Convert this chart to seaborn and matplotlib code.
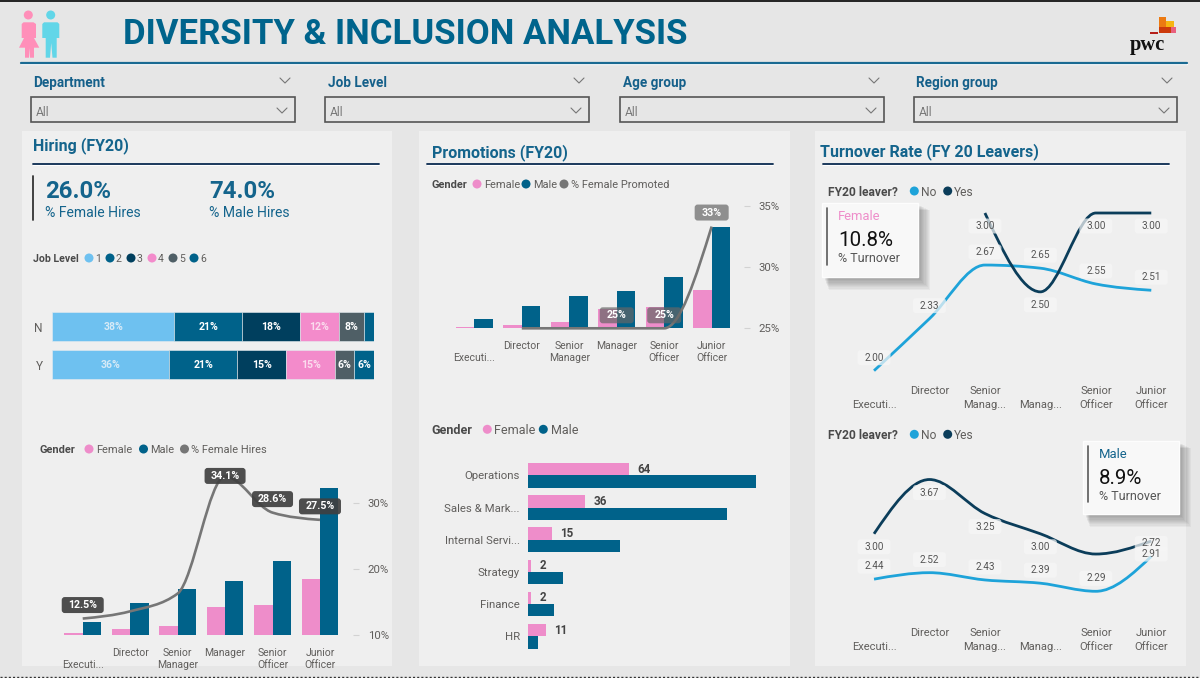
import numpy as np
import pandas as pd
import matplotlib
matplotlib.use("Agg")
import matplotlib.pyplot as plt
from matplotlib.patches import Rectangle, FancyBboxPatch, Circle, Polygon, PathPatch
from matplotlib.path import Path
import seaborn as sns

# ---- data -------------------------------------------------------------
levels = ["Executive", "Director", "Senior Manager", "Manager", "Senior Officer", "Junior Officer"]
combo_ticks = ["\nExecuti...", "Director", "Senior\nManager", "Manager", "Senior\nOfficer", "Junior\nOfficer"]
turnover_ticks = ["\nExecuti...", "Director", "Senior\nManag...", "\nManag...", "Senior\nOfficer", "Junior\nOfficer"]

job_levels = ["1", "2", "3", "4", "5", "6"]
stack_rows = ["N", "Y"]
stack_n = [38, 21, 18, 12, 8, 3]
stack_y = [36, 21, 15, 15, 6, 6]

hires_female = [1, 3, 5, 15, 16, 30]
hires_male = [7, 17, 25, 29, 40, 79]
hires_pct = [12.5, 13.6, 16.3, 34.1, 28.6, 27.5]

promo_female = [1, 2, 4, 12, 13, 24]
promo_male = [6, 14, 20, 23, 32, 63]
promo_pct = [np.nan, 25, 25, 25, 25, 33.3]

departments = ["Operations", "Sales & Mark...", "Internal Servi...", "Strategy", "Finance", "HR"]
dept_female = [64, 36, 15, 2, 2, 11]
dept_male = [144, 126, 58, 22, 16, 6]

female_no = [2.00, 2.33, 2.67, 2.65, 2.55, 2.51]
female_yes = [np.nan, np.nan, 3.00, 2.50, 3.00, 3.00]
male_no = [2.44, 2.52, 2.43, 2.39, 2.29, 2.72]
male_yes = [3.00, 3.67, 3.25, 3.00, 2.75, 2.91]
male_yes_labelled = [0, 1, 2, 3, 5]

filters = ["Department", "Job Level", "Age group", "Region group"]

# ---- styling ----------------------------------------------------------
W, H = 1200, 678
PAGE, PANEL = "#E6E6E6", "#EFEFEF"
PINK, TEAL = "#EE8DCA", "#00628A"
GREY_LINE, NAVY = "#767676", "#0A2A50"
NO_C, YES_C = "#1EA3D9", "#0B3D5A"
TITLE_C, TEXT_C = "#14648C", "#605E5C"
LEVEL_COLORS = ["#6EC1F0", "#00628A", "#003F5E", "#F38BCB", "#4F5F66", "#00628A"]

sns.set_theme(style="white")
plt.rcParams["font.family"] = ["Roboto", "DejaVu Sans"]
plt.rcParams["axes.facecolor"] = "none"

fig = plt.figure(figsize=(W / 100, H / 100), dpi=100, facecolor=PAGE)


def px_axes(l, t, r, b, **kw):
    return fig.add_axes([l / W, 1 - b / H, (r - l) / W, (b - t) / H], **kw)


def overlay(zorder):
    a = px_axes(0, 0, W, H)
    a.set_xlim(0, W)
    a.set_ylim(H, 0)
    a.axis("off")
    a.set_zorder(zorder)
    return a


back = overlay(0)
top = overlay(20)


def label(a, x, y, s, size, color=TEXT_C, weight="normal", ha="left", **kw):
    return a.text(x, y + 1, s, fontsize=size * 0.72, color=color, fontweight=weight,
                  ha=ha, va="center", **kw)


def clean(a):
    sns.despine(ax=a, left=True, bottom=True)
    a.set_xlabel("")
    a.set_ylabel("")


def monotone_line(a, x, y, color, lw):
    """Turn the seaborn line just drawn into a monotone cubic curve through the same knots."""
    a.lines[-1].remove()
    x, y = np.asarray(x, float), np.asarray(y, float)
    h = np.diff(x)
    s = np.diff(y) / h
    t = np.zeros_like(y)
    for i in range(1, len(y) - 1):
        p = (s[i - 1] * h[i] + s[i] * h[i - 1]) / (h[i - 1] + h[i])
        t[i] = (np.sign(s[i - 1]) + np.sign(s[i])) * min(abs(s[i - 1]), abs(s[i]), 0.5 * abs(p))
    t[0] = (3 * s[0] - t[1]) / 2
    t[-1] = (3 * s[-1] - t[-2]) / 2
    verts, codes = [(x[0], y[0])], [Path.MOVETO]
    for i in range(len(h)):
        verts += [(x[i] + h[i] / 3, y[i] + t[i] * h[i] / 3),
                  (x[i + 1] - h[i] / 3, y[i + 1] - t[i + 1] * h[i] / 3),
                  (x[i + 1], y[i + 1])]
        codes += [Path.CURVE4] * 3
    a.add_patch(PathPatch(Path(verts, codes), fc="none", ec=color, lw=lw,
                          capstyle="butt", joinstyle="round", clip_on=False, zorder=3))


def pill(a, i, v, dy, w, h, fc, alpha, tc, text, size, weight="bold"):
    """Rounded value tag placed relative to a point of axes a, dy pixels below (+) or above (-)."""
    dx_, dy_ = a.transData.transform((i, v))
    x, y = dx_, H - dy_ + dy
    top.add_patch(FancyBboxPatch((x - w / 2, y - h / 2), w, h,
                                 boxstyle="round,pad=0,rounding_size=3",
                                 fc=fc, ec="none", alpha=alpha))
    label(top, x, y - 1, text, size, color=tc, weight=weight, ha="center")


def legend_dots(y, title, title_x, title_size, items, size):
    label(top, title_x, y, title, title_size, color="#4A4A4A", weight="bold")
    for cx, tx, name, col in items:
        top.add_patch(Circle((cx, y), 4.5, fc=col, ec="none"))
        label(top, tx, y, name, size)


def combo(rect, female, male, pct, unit_px, tick_base, tick_px10, ticks, tick_offset, pill_cfg, fmt):
    l, t, r, b = rect
    ax = px_axes(l, t, r, b)
    df = pd.DataFrame({"level": levels * 2, "count": list(female) + list(male),
                       "gender": ["Female"] * 6 + ["Male"] * 6})
    sns.barplot(data=df, x="level", y="count", hue="gender", order=levels,
                hue_order=["Female", "Male"], palette=[PINK, TEAL], width=0.776, gap=0,
                saturation=1, legend=False, ax=ax, linewidth=0)
    ax.set_xlim(-0.5, 5.5)
    ax.set_ylim(0, (b - t) / unit_px)
    ax.set_yticks([])
    ax.set_xticks(range(6))
    ax.set_xticklabels(combo_ticks, fontsize=7.5, color=TEXT_C, linespacing=1.22)
    ax.tick_params(axis="x", length=0, pad=9.2)
    clean(ax)

    ax2 = ax.twinx()
    line = pd.DataFrame({"pos": range(6), "pct": pct}).dropna()
    sns.lineplot(data=line, x="pos", y="pct", color=GREY_LINE, estimator=None, ax=ax2)
    monotone_line(ax2, line["pos"], line["pct"], GREY_LINE, 1.9)
    ax2.set_xlim(-0.5, 5.5)
    ax2.set_ylim(tick_base, tick_base + (b - t) / tick_px10)
    ax2.set_yticks(ticks)
    ax2.set_yticklabels([f"{v}%" for v in ticks])
    ax2.spines["right"].set_position(("outward", tick_offset * 0.72))
    sns.despine(ax=ax2, left=True, right=True, bottom=True)
    ax2.set_xlabel("")
    ax2.set_ylabel("")
    ax2.tick_params(axis="y", which="major", right=True, length=4.4, width=0.8,
                    color="#D2D2D2", pad=6.2, labelsize=8.2, labelcolor=TEXT_C)
    for tick in ax2.yaxis.get_major_ticks():
        tick.tick2line.set_linestyle((0, (1, 2.5)))
    for i, dy, w, fc, alpha in pill_cfg:
        pill(ax2, i, pct[i], dy, w, 16, fc, alpha, "white", format(pct[i], fmt) + "%", 10.6)
    return ax, ax2


def turnover(rect, no, yes, yes_labelled, unit_px, y_ref, ref_v):
    l, t, r, b = rect
    ax = px_axes(l, t, r, b)
    frame = pd.DataFrame({"pos": list(range(6)) * 2, "rate": no + yes,
                          "leaver": ["No"] * 6 + ["Yes"] * 6}).dropna()
    for name, col in (("No", NO_C), ("Yes", YES_C)):
        sub = frame[frame["leaver"] == name]
        sns.lineplot(data=sub, x="pos", y="rate", color=col, estimator=None, ax=ax)
        monotone_line(ax, sub["pos"], sub["rate"], col, 2.0)
    ax.set_xlim(-0.5, 5.5)
    ax.set_ylim(ref_v - (b - y_ref) / unit_px, ref_v + (y_ref - t) / unit_px)
    ax.set_yticks([])
    ax.set_xticks(range(6))
    ax.set_xticklabels(turnover_ticks, fontsize=8.0, color=TEXT_C, linespacing=1.5)
    ax.tick_params(axis="x", length=0, pad=4.4)
    clean(ax)
    for i, v in enumerate(no):
        pill(ax, i, v, -13, 33, 15, "#F6F6F6", 0.72, "#555555", f"{v:.2f}", 10, weight="normal")
    for i in yes_labelled:
        pill(ax, i, yes[i], 13, 33, 15, "#F6F6F6", 0.72, "#555555", f"{yes[i]:.2f}", 10, weight="normal")
    return ax


def card(x0, y0, x1, y1, bar_x, heading, heading_c, value):
    for k in range(9, 0, -1):
        top.add_patch(Rectangle((x0 + 2 + k * 0.5, y0 + 2 + k * 0.6), x1 - x0 + k * 0.6, y1 - y0 + k * 0.6,
                                fc="black", ec="none", alpha=0.035))
    top.add_patch(Rectangle((x0, y0), x1 - x0, y1 - y0, fc="#F8F8F8", ec="#FDFDFD", lw=1))
    top.plot([bar_x, bar_x], [y0 + 5, y1 - 12], color="#5A5A5A", lw=1.2)
    tx = bar_x + 11
    label(top, tx, y0 + 13, heading, 13, color=heading_c)
    label(top, tx, y0 + 37, value, 20.5, color="#111111")
    label(top, tx, y0 + 55, "% Turnover", 12.5, color="#555555")


# ---- page furniture ---------------------------------------------------
back.plot([0, W], [0.8, 0.8], color="#222222", lw=1.4)
back.plot([0, W], [677, 677], color="#333333", lw=1, ls=(0, (1.5, 1.5)))
back.plot([21, 1187], [64, 64], color="white", lw=1)
back.plot([21, 1187], [63, 63], color="#1A6A92", lw=1.6)
for x0, x1 in ((22, 392), (419, 790), (815, 1186)):
    back.add_patch(Rectangle((x0, 131), x1 - x0, 535, fc=PANEL, ec="none"))

label(back, 123, 33, "DIVERSITY & INCLUSION ANALYSIS", 34.8, color="#00648C", weight="bold")

# people pictogram
FEM, MALE = "#FF8FB9", "#62D6E8"
back.add_patch(Circle((28.3, 15), 4.5, fc=FEM, ec="none"))
back.add_patch(Polygon([(23.5, 22.3), (33.5, 22.3), (36, 24), (36, 38), (34, 38), (39.3, 47.7), (34, 47.7),
                        (34, 57.7), (30, 57.7), (29.5, 48), (29, 57.7), (25, 57.7), (25, 47.7), (19, 47.7),
                        (24, 38), (21.7, 38), (21.7, 24)],
                       closed=True, fc=FEM, ec="none"))
back.add_patch(Circle((50.7, 15), 4.5, fc=MALE, ec="none"))
back.add_patch(Polygon([(44, 22.3), (57.5, 22.3), (59.3, 24), (59.3, 38), (56.7, 38), (56.7, 57.7), (52.5, 57.7),
                        (51.2, 43), (50, 57.7), (45.7, 57.7), (45.7, 38), (42.3, 38), (42.3, 24)],
                       closed=True, fc=MALE, ec="none"))

# firm mark
back.add_patch(Rectangle((1159, 16.7), 6.7, 11, fc="#EC7A12", ec="none"))
back.add_patch(Rectangle((1165.7, 21), 8.3, 7, fc="#F6B512", ec="none"))
back.add_patch(Rectangle((1159, 27.3), 11.7, 5.4, fc="#CC3A0C", ec="none"))
back.add_patch(Rectangle((1170.7, 27.3), 5, 5.4, fc="#E8607E", ec="none"))
back.add_patch(Rectangle((1150, 32), 8.3, 2.3, fc="#B5201A", ec="none"))
back.text(1147, 45, "pwc", fontsize=14.8, family="Liberation Serif", fontweight="bold",
          color="#111111", ha="center", va="center")

# slicers
slicer_boxes = [(31, 295), (325, 589), (620, 884), (914, 1177)]
slicer_title_x = [33.5, 328, 623, 916.5]
for name, (x0, x1), tx in zip(filters, slicer_boxes, slicer_title_x):
    label(back, tx, 82, name, 13.5, color="#15608A", weight="bold")
    back.add_patch(Rectangle((x0, 97), x1 - x0, 25, fc=PAGE, ec="#555555", lw=1.2))
    label(back, x0 + 5, 111, "All", 12, color="#7A7A7A")
    for cx, cy in ((x1 - 10, 81), (x1 - 13, 111)):
        back.plot([cx - 5, cx, cx + 5], [cy - 3, cy + 2, cy - 3], color="#777777", lw=0.8)

# panel headings
headings = [("Hiring (FY20)", 33, 145, 33, 379), ("Promotions (FY20)", 432, 152, 427, 773),
            ("Turnover Rate (FY 20 Leavers)", 820, 151, 823, 1169)]
for text, tx, ty, x0, x1 in headings:
    label(back, tx, ty, text, 16, color=TITLE_C, weight="bold")
    back.plot([x0, x1], [165, 165], color="white", lw=0.8)
    back.plot([x0, x1], [164, 164], color=NAVY, lw=1.3)

# ---- hiring -----------------------------------------------------------
back.plot([33, 33], [176, 220], color="#333333", lw=1.3)
label(back, 45, 190, "26.0%", 24, color=TITLE_C, weight="bold")
label(back, 45, 212, "% Female Hires", 14, color=TITLE_C)
label(back, 209, 190, "74.0%", 24, color=TITLE_C, weight="bold")
label(back, 209, 212, "% Male Hires", 14, color=TITLE_C)

legend_dots(258, "Job Level", 33, 10.5,
            [(89 + 21 * i, 95 + 21 * i, lv, c) for i, (lv, c) in enumerate(zip(job_levels, LEVEL_COLORS))], 10.5)

ax_stack = px_axes(52, 307.5, 374, 383.5)
shares = np.array([stack_n, stack_y], float)
shares = shares / shares.sum(axis=1, keepdims=True)
left = np.zeros(2)
for j, c in enumerate(LEVEL_COLORS):
    sns.barplot(x=shares[:, j], y=stack_rows, order=stack_rows, orient="h", color=c, saturation=1,
                width=0.763, left=left, ax=ax_stack, edgecolor="#E4ECEF", linewidth=0.4)
    tc = {0: "#D6EAF7", 3: "#FBDCEE"}.get(j, "white")
    for r, raw in enumerate((stack_n[j], stack_y[j])):
        if raw >= 5:
            ax_stack.text(left[r] + shares[r, j] / 2, r, f"{raw}%", color=tc, fontsize=7.6,
                          fontweight="bold", ha="center", va="center")
    left = left + shares[:, j]
ax_stack.set_xlim(0, 1)
ax_stack.set_ylim(1.5, -0.5)
ax_stack.set_xticks([])
ax_stack.tick_params(axis="y", length=0, pad=6.5, labelsize=8.6, labelcolor=TEXT_C)
clean(ax_stack)

legend_dots(449, "Gender", 40, 11,
            [(89, 96, "Female", PINK), (143.5, 150, "Male", TEAL), (184.5, 191, "% Female Hires", GREY_LINE)], 11)

combo((59, 470, 343.7, 635), hires_female, hires_male, hires_pct,
      1.857, 10, 6.58, [10, 20, 30], 9.5,
      [(0, -13.5, 42, "#404040", 0.92), (3, -0.5, 41, "#404040", 0.92),
       (4, -13.5, 41, "#404040", 0.92), (5, -13.5, 42, "#404040", 0.92)], ".1f")

# ---- promotions -------------------------------------------------------
legend_dots(184, "Gender", 431.7, 11,
            [(477, 483.7, "Female", PINK), (526, 533, "Male", TEAL), (564, 571, "% Female Promoted", GREY_LINE)], 11)

combo((450.6, 190, 735.4, 328.3), promo_female, promo_male, promo_pct,
      1.614, 25, 12.26, [25, 30, 35], 8.5,
      [(3, -13, 34, "#666666", 0.7), (4, -13, 34, "#666666", 0.7), (5, -14, 34, "#666666", 0.7)], ".0f")

legend_dots(429.3, "Gender", 431.7, 12.5,
            [(487.3, 494.3, "Female", PINK), (543.3, 551, "Male", TEAL)], 12.5)

ax_dept = px_axes(528.3, 459.2, 770, 652.4)
dept_df = pd.DataFrame({"dept": departments * 2, "n": dept_female + dept_male,
                        "gender": ["Female"] * 6 + ["Male"] * 6})
sns.barplot(data=dept_df, y="dept", x="n", hue="gender", order=departments, orient="h",
            hue_order=["Female", "Male"], palette=[PINK, TEAL], width=0.766, gap=0,
            saturation=1, legend=False, ax=ax_dept, linewidth=0)
ax_dept.set_xlim(0, (770 - 528.3) / 1.578)
ax_dept.set_ylim(5.5, -0.5)
ax_dept.set_xticks([])
ax_dept.tick_params(axis="y", length=0, pad=6, labelsize=8.2, labelcolor=TEXT_C)
clean(ax_dept)
for i, v in enumerate(dept_female):
    ax_dept.annotate(str(v), (v, i - 0.19), xytext=(5.8, 0), textcoords="offset points",
                     fontsize=8.4, fontweight="bold", color="#444444", va="center")

# ---- turnover ---------------------------------------------------------
legend_dots(191, "FY20 leaver?", 828, 12,
            [(914.3, 920.7, "No", NO_C), (947.7, 954.3, "Yes", YES_C)], 12)
turnover((846.3, 205, 1179, 380), female_no, female_yes, [2, 3, 4, 5], 157.7, 370.7, 2.0)
card(822, 203, 918, 277, 827, "Female", PINK, "10.8%")

legend_dots(434.3, "FY20 leaver?", 828, 12,
            [(914.3, 920.7, "No", NO_C), (947.7, 954.3, "Yes", YES_C)], 12)
turnover((846.3, 470, 1179, 622), male_no, male_yes, male_yes_labelled, 81, 591.3, 2.29)
card(1083, 441, 1179, 514, 1088, "Male", TITLE_C, "8.9%")

fig.savefig("out.png", dpi=100, facecolor=PAGE)
